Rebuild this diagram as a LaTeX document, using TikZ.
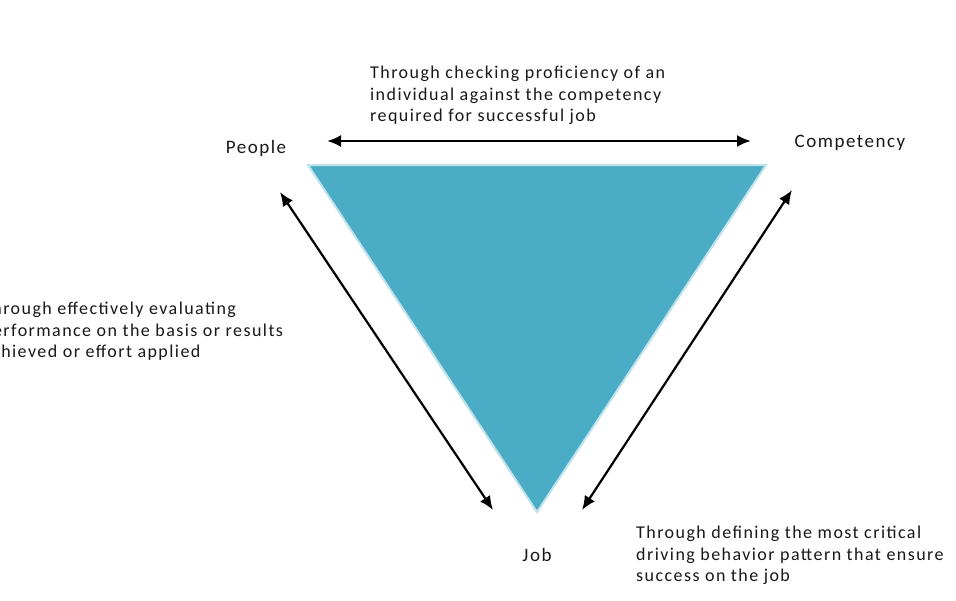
\documentclass[tikz,border=0pt]{standalone}
\usepackage{fontspec}
\setmainfont{Carlito}[LetterSpace=8]
\usetikzlibrary{arrows.meta}
\definecolor{tri}{HTML}{4BACC6}
\begin{document}
\begin{tikzpicture}[x=1pt,y=-1pt,
  lbl/.style={font=\fontsize{19}{22}\selectfont,text=black!90},
  txt/.style={font=\fontsize{18}{21.5}\selectfont,text=black!90,align=left,anchor=north west,inner sep=0},
  dbl/.style={{Latex[length=14pt,width=12pt]}-{Latex[length=14pt,width=12pt]},line width=2.2pt}]
\clip (0,0) rectangle (956,600);
\fill[white] (0,0) rectangle (956,600);
\draw[tri!35!white,line width=2pt,fill=tri] (308,165) -- (766,165) -- (537,512) -- cycle;
\node[lbl] (people) at (256,148) {People};
\node[lbl] (comp) at (850,143) {Competency};
\node[lbl] (job) at (537,555) {Job};
\coordinate (a1) at (327,141); \coordinate (a2) at (751,141);
\coordinate (b1) at (280,192); \coordinate (b2) at (493,510);
\coordinate (c1) at (792,190); \coordinate (c2) at (582,510);
\draw[dbl] (a1) -- (a2);
\draw[dbl] (b1) -- (b2);
\draw[dbl] (c1) -- (c2);
\node[txt] (t1) at (370,66) {Through checking proficiency of an\\individual against the competency\\required for successful job};
\node[txt] (t2) at (-18,302) {Through effectively evaluating\\performance on the basis or results\\achieved or effort applied};
\node[txt] (t3) at (636,526) {Through defining the most critical\\driving behavior pattern that ensure\\success on the job};
\end{tikzpicture}
\end{document}
